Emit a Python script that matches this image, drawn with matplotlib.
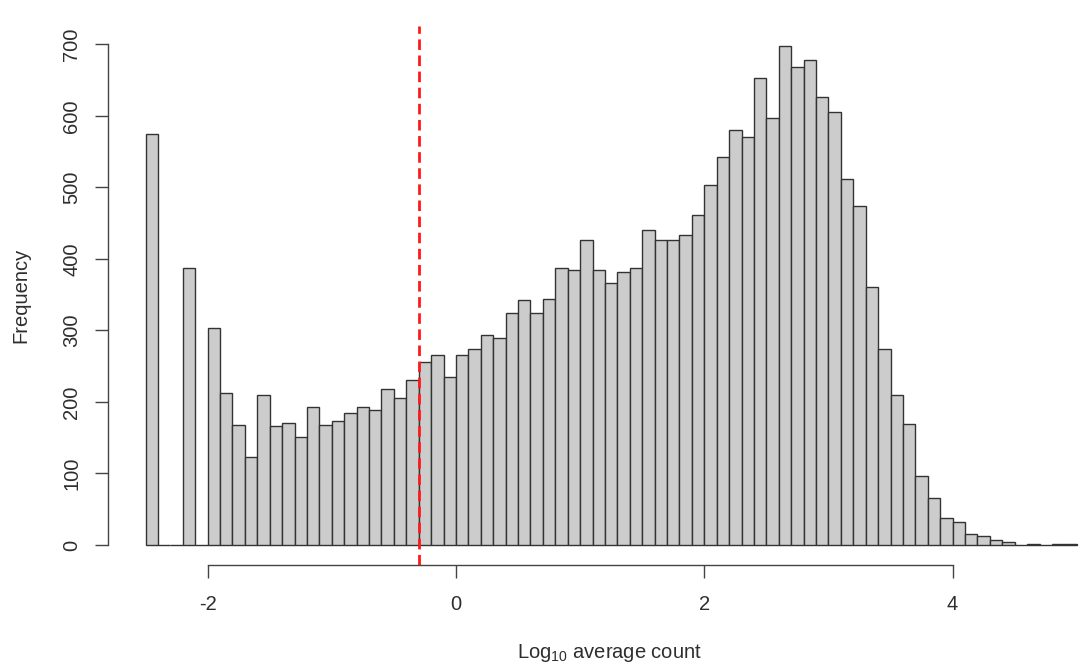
import numpy as np
import matplotlib
matplotlib.use('Agg')
import matplotlib.pyplot as plt

plt.rcParams['font.family'] = ['Liberation Sans', 'DejaVu Sans']
plt.rcParams['mathtext.fontset'] = 'custom'
plt.rcParams['mathtext.rm'] = 'Liberation Sans'

# histogram of log10 average counts, bins of 0.1 starting at -2.5
bin_start = -2.5
bin_width = 0.1
counts = [574, 0, 0, 387, 0,
          304, 213, 168, 123, 210, 166, 170, 151, 193, 168,
          174, 185, 193, 189, 218, 206, 231, 256, 266, 235,
          265, 274, 293, 289, 325, 342, 325, 344, 387, 384,
          427, 384, 367, 382, 387, 440, 427, 427, 434, 461,
          504, 542, 580, 570, 653, 597, 698, 669, 678, 627,
          605, 512, 474, 361, 274, 210, 169, 97, 66, 38,
          32, 15, 13, 7, 4, 0, 2, 0, 2, 2]
threshold = -0.301
x_ticks = [-2, 0, 2, 4]
y_ticks = [0, 100, 200, 300, 400, 500, 600, 700]

txt_col = '#2e2e2e'
line_col = '#444444'

fig = plt.figure(figsize=(10.8, 6.65), dpi=100)
ax = fig.add_axes([0.1003, 0.1504, 0.9312, 0.8108])

lefts = bin_start + bin_width * np.arange(len(counts))
ax.bar(lefts, counts, width=bin_width, align='edge', color='#cccccc',
       edgecolor='#333333', linewidth=1.0)

# threshold line, R lty=2 look
ax.axvline(threshold, color='#ff1a1a', linewidth=2.0, dashes=(3.8, 2.0),
           dash_capstyle='butt')

# R style axis ranges (4% padding)
x_lo, x_hi = bin_start, lefts[-1] + bin_width
xr = (x_hi - x_lo) * 0.04
ax.set_xlim(x_lo - xr, x_hi + xr)
ymax = max(counts)
ax.set_ylim(-0.04 * ymax, ymax * 1.04)

for s in ['top', 'right']:
    ax.spines[s].set_visible(False)
for s in ['left', 'bottom']:
    ax.spines[s].set_color(line_col)
    ax.spines[s].set_linewidth(1.0)
ax.spines['bottom'].set_bounds(x_ticks[0], x_ticks[-1])
ax.spines['left'].set_bounds(y_ticks[0], y_ticks[-1])

ax.set_xticks(x_ticks)
ax.set_yticks(y_ticks)
ax.set_xticklabels([str(v) for v in x_ticks])
ax.set_yticklabels([str(v) for v in y_ticks], rotation=90, va='center')
ax.tick_params(axis='both', length=9.4, width=1.0, color=line_col,
               labelsize=14.5, labelcolor=txt_col)
ax.tick_params(axis='x', pad=12)
ax.tick_params(axis='y', pad=10)

fig.text(21 / 1080, 1 - 295 / 665, 'Frequency', rotation=90, ha='center',
         va='center', fontsize=14.5, color=txt_col)
fig.text(609 / 1080, 1 - 658 / 665, 'Log$_{\\mathregular{10}}$ average count',
         ha='center', va='baseline', fontsize=14.5, color=txt_col)

fig.savefig('out.png', dpi=100)
